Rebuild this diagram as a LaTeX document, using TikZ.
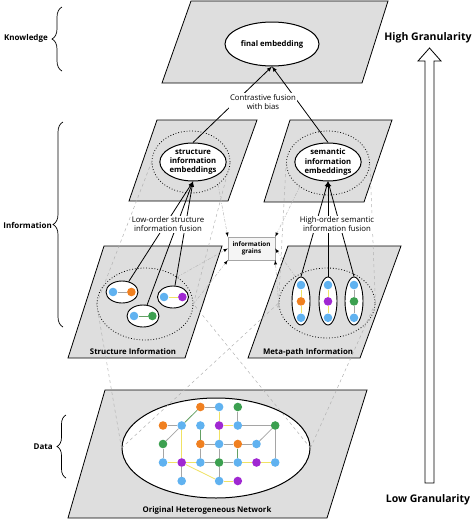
\documentclass[tikz,border=0pt]{standalone}
\usepackage{fontspec}
\setmainfont{Open Sans}
\usetikzlibrary{shapes.geometric,decorations.pathreplacing,positioning}
\definecolor{nblue}{RGB}{96,178,240}
\definecolor{norange}{RGB}{240,128,32}
\definecolor{npurple}{RGB}{160,40,210}
\definecolor{ngreen}{RGB}{60,160,80}
\definecolor{eyellow}{RGB}{240,226,100}
\definecolor{egray}{RGB}{165,165,165}
\definecolor{egreen}{RGB}{100,160,100}
\definecolor{planegray}{RGB}{222,222,222}
\tikzset{every node/.style={align=center}, >= latex, font=\fontsize{7.8}{9}\selectfont}
\tikzset{
    plane/.style={draw, fill=planegray, line width=0.8pt},
    emb/.style={ellipse, draw, fill=white, line width=1pt, inner sep=0pt, font=\bfseries\fontsize{7.7}{9.3}\selectfont},
    hull/.style={ellipse, draw, dotted, line width=0.8pt, inner sep=0pt},
    grp/.style={ellipse, draw, fill=white, line width=0.9pt, inner sep=0pt},
    vx/.style={circle, inner sep=0pt, minimum size=8.6pt},
    proj/.style={draw=gray!60, dashed, line width=0.5pt},
    grain/.style={draw=gray!55, dash pattern=on 3pt off 1.5pt on 1pt off 1.5pt, line width=0.5pt},
    caption/.style={font=\bfseries\fontsize{7.8}{9}\selectfont},
    side/.style={font=\bfseries\fontsize{8}{10}\selectfont, anchor=east, inner sep=1pt},
    tag/.style={fill=white, inner sep=1pt}
}

\begin{document}
\begin{tikzpicture}[x=1pt,y=-1pt]
            \useasboundingbox (0,0) rectangle (474,520);

            \draw[plane] (191,1) -- (388,1) -- (362,83) -- (162,83) -- cycle;
            \draw[plane] (157,120) -- (257,120) -- (228,201) -- (129,201) -- cycle;
            \draw[plane] (290,120) -- (392,120) -- (364,202) -- (264,202) -- cycle;
            \draw[plane] (104,246) -- (222,246) -- (185,358) -- (68,358) -- cycle;
            \draw[plane] (288,246) -- (401,246) -- (360,358) -- (248,358) -- cycle;
            \draw[plane] (105,390) -- (367,390) -- (327,518) -- (68,518) -- cycle;

            \node [emb, minimum width=94pt, minimum height=44pt] (fe) at (272,44) {final embedding};
            \node [hull, minimum width=78pt, minimum height=62pt] (sehull) at (191,162) {};
            \node [hull, minimum width=83pt, minimum height=64pt] (mehull) at (328,163) {};
            \node [emb, minimum width=62pt, minimum height=38pt] (se) at (193,162) {structure\\information\\embeddings};
            \node [emb, minimum width=62pt, minimum height=38pt] (me) at (328,162) {semantic\\information\\embeddings};

            \node [hull, minimum width=96pt, minimum height=72pt] (shull) at (145,304) {};
            \node [hull, minimum width=96pt, minimum height=70pt] (mhull) at (327,303) {};

            \node [grp, minimum width=32pt, minimum height=22pt] (p1) at (122,292) {};
            \node [grp, minimum width=31pt, minimum height=22pt] (p2) at (173,297) {};
            \node [grp, minimum width=32pt, minimum height=22pt] (p3) at (143,316) {};
            \node [vx, fill=nblue] (p1a) at (113,292) {};
            \node [vx, fill=norange] (p1b) [right=9.4pt of p1a] {};
            \node [vx, fill=nblue] (p2a) at (164,297) {};
            \node [vx, fill=npurple] (p2b) [right=9.4pt of p2a] {};
            \node [vx, fill=nblue] (p3a) at (134,316) {};
            \node [vx, fill=ngreen] (p3b) [right=9.4pt of p3a] {};
            \draw[egray, line width=0.8pt] (p1a) -- (p1b);
            \draw[eyellow, line width=0.8pt] (p2a) -- (p2b);
            \draw[egreen, line width=0.8pt] (p3a) -- (p3b);

            \node [grp, minimum width=18pt, minimum height=48pt] (v1) at (301,301) {};
            \node [grp, minimum width=18pt, minimum height=48pt] (v2) at (328,301) {};
            \node [grp, minimum width=18pt, minimum height=48pt] (v3) at (354,301) {};
            \foreach \v/\mid/\ec in {v1/norange/eyellow, v2/npurple/eyellow, v3/ngreen/egray} {
                \node [vx, fill=nblue] (\v a) at ([yshift=16pt]\v.center) {};
                \node [vx, fill=\mid] (\v b) [below=7.4pt of \v a] {};
                \node [vx, fill=nblue] (\v c) [below=7.4pt of \v b] {};
                \draw[\ec, line width=0.8pt] (\v a) -- (\v b) -- (\v c);
            }

            \node [ellipse, draw, fill=white, line width=1pt, minimum width=188pt, minimum height=100pt] (net) at (216,448) {};
            \foreach \c/\r/\col in {3/1/norange, 4/1/nblue, 5/1/ngreen,
                    1/2/norange, 2/2/nblue, 3/2/nblue, 4/2/npurple, 5/2/nblue, 7/2/ngreen,
                    1/3/ngreen, 3/3/norange, 4/3/nblue, 5/3/norange, 6/3/nblue,
                    1/4/nblue, 2/4/npurple, 3/4/nblue, 4/4/ngreen, 5/4/nblue, 6/4/npurple, 7/4/nblue,
                    2/5/nblue, 4/5/nblue, 5/5/npurple}
                \node [vx, fill=\col] (n\c\r) at ({144.3+18.7*\c},{388.5+18.5*\r}) {};
            \foreach \a/\b in {n31/n41, n22/n13, n51/n52, n12/n22, n52/n72, n72/n63, n72/n74, n13/n14,
                    n33/n43, n43/n53, n53/n63, n43/n44, n33/n34, n34/n44, n44/n54, n24/n25, n44/n45}
                \draw[egray, line width=0.8pt] (\a) -- (\b);
            \foreach \a/\b in {n31/n22, n32/n33, n53/n54}
                \draw[egreen, line width=0.8pt] (\a) -- (\b);
            \foreach \a/\b in {n41/n42, n42/n52, n42/n43, n22/n24, n14/n24, n24/n34, n54/n64, n64/n74, n24/n45, n45/n55}
                \draw[eyellow, line width=0.8pt] (\a) -- (\b);

            \node [draw=gray!70, fill=gray!8, minimum width=47pt, minimum height=23pt, inner sep=1pt,
                font=\bfseries\fontsize{6.3}{7.3}\selectfont] (ig) at (251.5,248.5) {information\\grains};

            \path[proj] (net.west) edge (shull.west) edge (mhull.west)
                (net.east) edge (shull.east) edge (mhull.east)
                (shull.west) edge (sehull.west)
                (shull.east) edge (sehull.east)
                (mhull.west) edge (mehull.west)
                (mhull.east) edge (mehull.east);

            \path[grain, ->] (sehull.-40) edge (ig.north west)
                (mehull.220) edge (ig.north east)
                (shull.40) edge (ig.west)
                (shull.0) edge (ig.south west)
                (mhull.140) edge (ig.east)
                (mhull.180) edge (ig.south east);

            \path[->, line width=0.8pt] (se.north) edge (fe.south)
                (me.north) edge (fe.south)
                (p1) edge (se.south)
                (p3) edge (se.south)
                (p2) edge (se.south)
                (v1.north) edge (me.south)
                (v2.north) edge (me.south)
                (v3.north) edge (me.south);

            \node [tag] (cf) at (263,102) {Contrastive fusion\\with bias};
            \node [tag] (lo) at (168,224) {Low-order structure\\information fusion};
            \node [tag] (ho) at (337,224) {High-order semantic\\information fusion};

            \node [caption] (sinfo) at (133,352) {Structure Information};
            \node [caption] (minfo) at (308,352) {Meta-path Information};
            \node [caption] (onet) at (207,510) {Original Heterogeneous Network};

            \node [side] (know) at (49,38) {Knowledge};
            \node [side] (info) at (53,225) {Information};
            \node [side] (data) at (54,447) {Data};
            \draw[decorate, decoration={brace, amplitude=10pt}, line width=0.7pt] (62,71) -- (62,7);
            \draw[decorate, decoration={brace, amplitude=10pt}, line width=0.7pt] (63,327) -- (63,122);
            \draw[decorate, decoration={brace, amplitude=9pt}, line width=0.7pt] (66,478) -- (66,415);

            \node [font=\bfseries\fontsize{10.5}{12}\selectfont] (high) at (428,38) {High Granularity};
            \node [font=\bfseries\fontsize{10.5}{12}\selectfont] (low) at (428,500) {Low Granularity};
            \draw[fill=white, line width=0.8pt] (425,483) -- (425,61) -- (418,61) -- (429.5,48)
                -- (441,61) -- (434,61) -- (434,483) -- cycle;
        \end{tikzpicture}
\end{document}
